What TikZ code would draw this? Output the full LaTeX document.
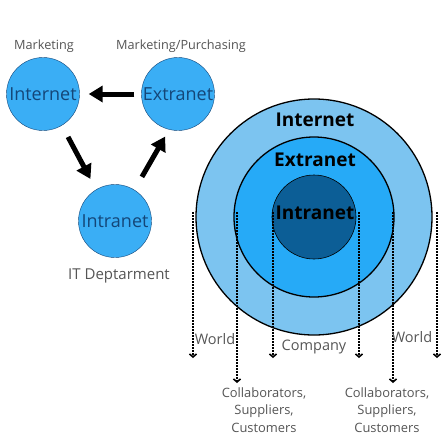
\documentclass[tikz,border=0pt]{standalone}
\usepackage{fontspec}
\setmainfont{Open Sans}
\usetikzlibrary{positioning}
\usetikzlibrary{arrows.meta}
\definecolor{netlight}{RGB}{124,196,240}
\definecolor{netmid}{RGB}{38,170,247}
\definecolor{netdark}{RGB}{12,94,150}
\definecolor{netsmall}{RGB}{58,174,245}
\definecolor{netedge}{RGB}{20,70,120}
\definecolor{labelgray}{RGB}{85,85,85}
\tikzset{
	every node/.style = {font=\fontsize{12.7}{15}\selectfont, text=labelgray},
	netball/.style = {circle, draw=netedge, fill=netsmall, minimum size=73pt, inner sep=0pt, text=netedge, font=\fontsize{18}{20}\selectfont},
	ring/.style = {circle, draw=black, line width=1.3pt, inner sep=0pt},
	bigarrow/.style = {line width=5pt, -{Triangle[length=14pt,width=16pt]}},
	dotarrow/.style = {line width=1.6pt, dash pattern=on 1.6pt off 1.4pt, -{Straight Barb[length=3pt,width=7pt]}},
	ringlabel/.style = {font=\fontsize{19}{21}\selectfont\bfseries, text=black},
	flowlabel/.style = {font=\fontsize{14.5}{17}\selectfont}
}

\begin{document}
\begin{tikzpicture}[x=1pt, y=-1pt]
	\useasboundingbox (0,0) rectangle (445,445);
	% small circles
	\node[netball] (int) at (43,94) {Internet};
	\node[netball] (ext) at (178,94) {Extranet};
	\node[netball] (intra) at (115,221) {Intranet};
	\node (mkt) at (44,46) {Marketing};
	\node (mktpur) at (181,46) {Marketing/Purchasing};
	\node[flowlabel, font=\fontsize{15}{17}\selectfont] (itdep) at (119,276) {IT Deptarment};
	% arrows
	\draw[bigarrow, shorten <=7pt, shorten >=9pt] (ext.west) -- (int.east);
	\draw[bigarrow, shorten <=13pt, shorten >=12pt] (int.-59) -- (intra.121);
	\draw[bigarrow, shorten <=15pt, shorten >=8pt] (intra.58) -- (ext.-104);
	% rings
	\node[ring, fill=netlight, minimum size=236pt] (outer) at (314,217) {};
	\node[ring, fill=netmid, minimum size=160pt] (middle) at (314,217) {};
	\node[ring, fill=netdark, minimum size=84pt, line width=0.6pt] (inner) at (314,217) {};
	\node[ringlabel] (outerlbl) at (315,120) {Internet};
	\node[ringlabel] (middlelbl) at (315,160) {Extranet};
	\node[ringlabel] (innerlbl) at (315,213) {Intranet};
	% dotted lines
	\foreach \x/\y [count=\i] in {193/358, 237/383, 273/358, 359/358, 393/383, 437/358} {
		\coordinate (top\i) at (\x,212);
		\coordinate (end\i) at (\x,\y);
		\draw[dotarrow] (top\i) -- (end\i);
	}
	\node[flowlabel] (worldl) at (215,339) {World};
	\node[flowlabel] (worldr) at (412,337) {World};
	\node[flowlabel] (comp) at (314,347) {Company};
	\node[align=center, font=\fontsize{12.9}{17.5}\selectfont] (collabl) at (264,410) {Collaborators,\\Suppliers,\\Customers};
	\node[align=center, font=\fontsize{12.9}{17.5}\selectfont] (collabr) at (387,410) {Collaborators,\\Suppliers,\\Customers};
\end{tikzpicture}
\end{document}
